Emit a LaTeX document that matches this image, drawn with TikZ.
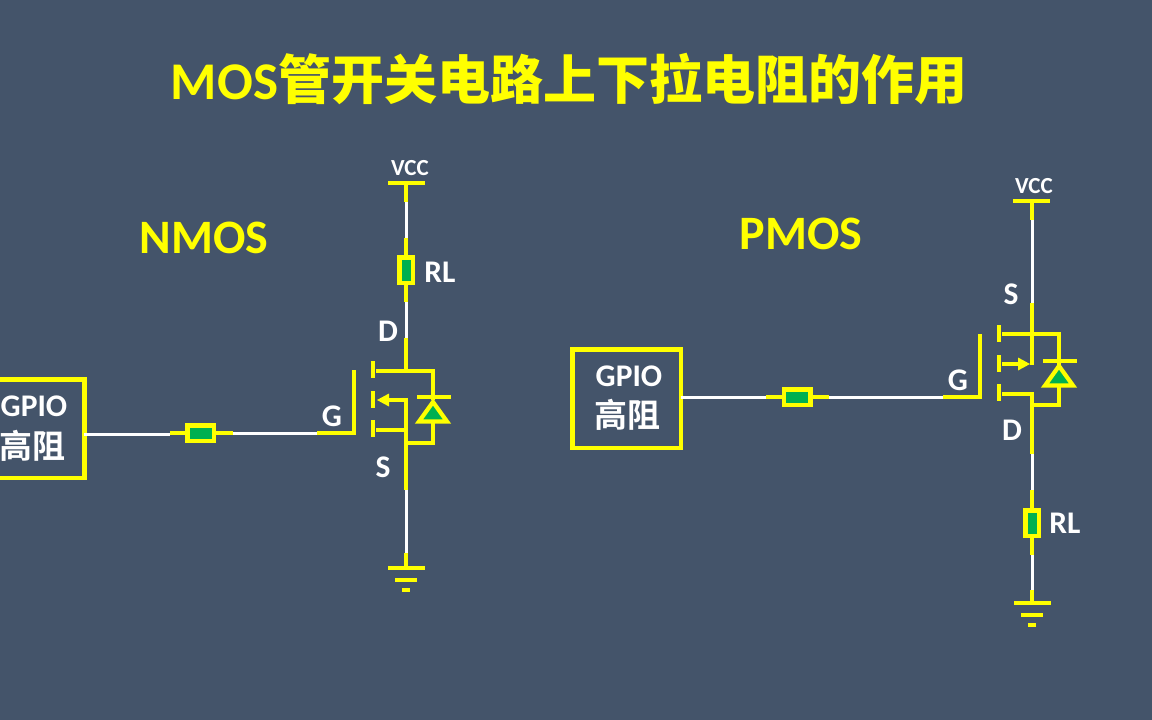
\documentclass[tikz,border=0pt]{standalone}
\usepackage{fontspec}
\setmainfont{Carlito}[BoldFont={Carlito Bold}]
\newfontfamily\cjkf{Noto Sans CJK SC Bold}
\definecolor{bgc}{HTML}{44546A}
\definecolor{ylw}{HTML}{FFFF00}
\definecolor{grn}{HTML}{00B050}
\newcommand{\titlefont}{\fontsize{53}{60}\selectfont\bfseries}
\tikzset{
  yw/.style={draw=ylw,line width=4.4pt,line cap=butt,line join=miter},
  wh/.style={draw=white,line width=3pt},
  resv/.style={draw=ylw,fill=grn,line width=4.5pt,minimum width=13.5pt,minimum height=25.5pt,inner sep=0pt,outer sep=0pt},
  resh/.style={draw=ylw,fill=grn,line width=4.5pt,minimum width=26.5pt,minimum height=15.5pt,inner sep=0pt,outer sep=0pt},
  gpiobox/.style={draw=ylw,line width=4.5pt,minimum width=108.5pt,minimum height=98.5pt,inner sep=0pt,outer sep=0pt},
  lbl/.style={text=white,font=\fontsize{31.5}{34}\selectfont\bfseries,inner sep=0pt},
  vcclbl/.style={text=white,font=\fontsize{23}{26}\selectfont\bfseries,inner sep=0pt},
  cjklbl/.style={text=white,font=\fontsize{33}{36}\selectfont\cjkf,inner sep=0pt},
  head/.style={text=ylw,font=\fontsize{48}{54}\selectfont\bfseries,inner sep=0pt},
  dio/.style={draw=ylw,fill=grn,line width=4.2pt,line join=miter},
  tipf/.style={fill=ylw,draw=none},
}
\begin{document}
\begin{tikzpicture}[x=1pt,y=-1pt]
\useasboundingbox (0,0) rectangle (1152,720);
\clip (0,0) rectangle (1152,720);
\fill[bgc] (0,0) rectangle (1152,720);
\node[text=ylw,font=\titlefont,inner sep=0pt] (title) at (569,79) {MOS{\cjkf 管开关电路上下拉电阻的作用}};
\node[head] (nmoslbl) at (204,238) {NMOS};
\node[head] (pmoslbl) at (801,234) {PMOS};

% ---------- NMOS ----------
\node[gpiobox] (gl) at (30,428.5) {};
\node[lbl] (gl1) at (34,406) {GPIO};
\node[cjklbl] (gl2) at (32,446) {高阻};
\node[resh] (rgl) at (200.5,433) {};
\node[resv] (rll) at (406,270) {};
\coordinate (wa) at (170,434);
\coordinate (wb) at (233,433);
\coordinate (wc) at (317,433);
\coordinate (gk) at (354,433);
\coordinate (gt) at (354,370);
\draw[wh] (gl.east |- wa) -- (wa);
\draw[yw] (170,433) -- (rgl.west);
\draw[yw] (rgl.east) -- (wb);
\draw[wh] (wb) -- (wc);
\draw[yw] (wc) -- (gk) -- (gt);
% vcc
\coordinate (vl) at (406,183);
\coordinate (vla) at (388,183);
\coordinate (vlb) at (425,183);
\draw[yw] (vla) -- (vlb);
\node[vcclbl] (vccl) at (410,168) {VCC};
\coordinate (vl1) at (406,202);
\coordinate (vl2) at (406,238);
\coordinate (dl0) at (406,302);
\coordinate (dl1) at (406,338);
\coordinate (dl2) at (406,371);
\draw[yw] (vl) -- (vl1);
\draw[wh] (vl1) -- (vl2);
\draw[yw] (vl2) -- (rll.north);
\draw[yw] (rll.south) -- (dl0);
\draw[wh] (dl0) -- (dl1);
\draw[yw] (dl1) -- (dl2);
\node[lbl] (rllbl) at (440,272) {RL};
\node[lbl] (dlbl) at (388,331) {D};
\node[lbl] (slbl) at (383,467) {S};
\node[lbl] (glbl) at (332,416) {G};
% channel
\draw[yw] (373,361) -- (373,378);
\draw[yw] (373,391) -- (373,408);
\draw[yw] (373,420) -- (373,437);
\draw[yw] (376,371) -- (dl2) -- (433,371) -- (433,400);
\draw[yw] (388,400) -- (406,400) -- (406,490);
\fill[tipf] (377,400) -- (389,393.5) -- (389,406.5) -- cycle;
\draw[yw] (376,430) -- (406,430);
\draw[yw] (417,397) -- (451,397);
\draw[dio] (433,402) -- (447,421.5) -- (419,421.5) -- cycle;
\draw[yw] (433,423) -- (433,443) -- (406,443);
% ground
\coordinate (sl1) at (406,490);
\coordinate (sl2) at (406,553);
\coordinate (sl3) at (406,568);
\draw[wh] (sl1) -- (sl2);
\draw[yw] (sl2) -- (sl3);
\draw[yw] (388,568) -- (425,568);
\draw[yw] (395,580) -- (417,580);
\draw[yw] (402,590) -- (410,590);

% ---------- PMOS ----------
\node[gpiobox] (gr) at (626.5,398.5) {};
\node[lbl] (gr1) at (629,376) {GPIO};
\node[cjklbl] (gr2) at (627,415) {高阻};
\node[resh] (rgr) at (797,397) {};
\node[resv] (rlr) at (1032,523) {};
\coordinate (xa) at (766,397);
\coordinate (xb) at (829,397);
\coordinate (xc) at (943,397);
\coordinate (hk) at (980,397);
\coordinate (ht) at (980,334);
\draw[wh] (gr.east |- xa) -- (xa);
\draw[yw] (xa) -- (rgr.west);
\draw[yw] (rgr.east) -- (xb);
\draw[wh] (xb) -- (xc);
\draw[yw] (xc) -- (hk) -- (ht);
% vcc
\node[vcclbl] (vccr) at (1034,186) {VCC};
\draw[yw] (1013,201) -- (1050,201);
\coordinate (vr) at (1032,201);
\coordinate (vr1) at (1032,220);
\coordinate (vr2) at (1032,303);
\coordinate (vr3) at (1032,365);
\draw[yw] (vr) -- (vr1);
\draw[wh] (vr1) -- (vr2);
\draw[yw] (vr2) -- (vr3);
\node[lbl] (slbr) at (1011,294) {S};
\node[lbl] (glbr) at (958,380) {G};
\node[lbl] (dlbr) at (1012,430) {D};
\node[lbl] (rlbr) at (1065,523) {RL};
% channel
\draw[yw] (999,325) -- (999,342);
\draw[yw] (999,355) -- (999,372);
\draw[yw] (999,384) -- (999,401);
\draw[yw] (1002,334) -- (1059,334) -- (1059,365);
\draw[yw] (1002,364) -- (1020,364);
\fill[tipf] (1030,364) -- (1018,357.5) -- (1018,370.5) -- cycle;
\draw[yw] (1002,394) -- (1032,394) -- (1032,454);
\draw[yw] (1043,361) -- (1077,361);
\draw[dio] (1059,366) -- (1073,385.5) -- (1045,385.5) -- cycle;
\draw[yw] (1059,387) -- (1059,405) -- (1032,405);
% lower leg
\coordinate (dr1) at (1032,454);
\coordinate (dr2) at (1032,490);
\draw[wh] (dr1) -- (dr2);
\draw[yw] (dr2) -- (rlr.north);
\coordinate (dr3) at (1032,555);
\coordinate (dr4) at (1032,590);
\coordinate (dr5) at (1032,603);
\draw[yw] (rlr.south) -- (dr3);
\draw[wh] (dr3) -- (dr4);
\draw[yw] (dr4) -- (dr5);
\draw[yw] (1014,603) -- (1051,603);
\draw[yw] (1021,615) -- (1043,615);
\draw[yw] (1028,625) -- (1036,625);
\end{tikzpicture}
\end{document}
